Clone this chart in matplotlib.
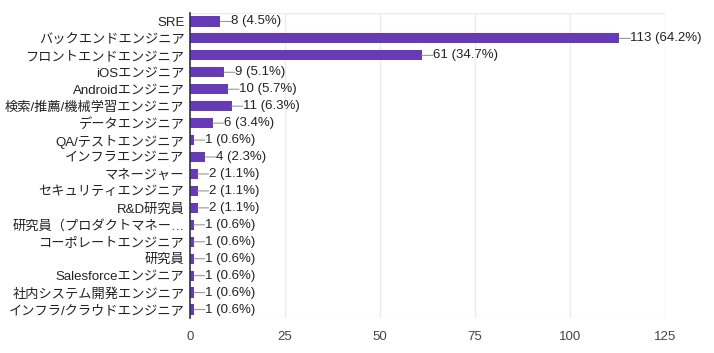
import matplotlib
matplotlib.use("Agg")
import matplotlib.pyplot as plt

plt.rcParams['font.family'] = ['Liberation Sans', 'Noto Sans CJK JP', 'DejaVu Sans']

# 職種ごとの回答数
roles = [
    "SRE",
    "バックエンドエンジニア",
    "フロントエンドエンジニア",
    "iOSエンジニア",
    "Androidエンジニア",
    "検索/推薦/機械学習エンジニア",
    "データエンジニア",
    "QA/テストエンジニア",
    "インフラエンジニア",
    "マネージャー",
    "セキュリティエンジニア",
    "R&D研究員",
    "研究員（プロダクトマネー…",
    "コーポレートエンジニア",
    "研究員",
    "Salesforceエンジニア",
    "社内システム開発エンジニア",
    "インフラ/クラウドエンジニア",
]
counts = [8, 113, 61, 9, 10, 11, 6, 1, 4, 2, 2, 2, 1, 1, 1, 1, 1, 1]
percents = [4.5, 64.2, 34.7, 5.1, 5.7, 6.3, 3.4, 0.6, 2.3, 1.1, 1.1, 1.1,
            0.6, 0.6, 0.6, 0.6, 0.6, 0.6]
xticks = [0, 25, 50, 75, 100, 125]

fig = plt.figure(figsize=(7.14, 3.53), dpi=100)
ax = fig.add_axes([190 / 714, 1 - 318 / 353, 475 / 714, 305 / 353])

ypos = list(range(len(roles)))
ax.barh(ypos, counts, height=0.6, color='#673ab7', zorder=3)

# ラベルと引き出し線
for y, c, p in zip(ypos, counts, percents):
    ax.annotate(f"{c} ({p}%)", xy=(c, y), xytext=(11, 0), textcoords='offset pixels',
                va='center', ha='left', fontsize=9.5, color='#222222',
                arrowprops=dict(arrowstyle='-', color='#999999', lw=0.8,
                                shrinkA=0, shrinkB=0, patchA=None,
                                relpos=(0, 0.5)),
                zorder=4)

ax.set_ylim(len(roles) - 0.5, -0.5)
ax.set_xlim(0, 125)
ax.set_yticks(ypos)
ax.set_yticklabels(roles, fontsize=9.5, color='#222222')
ax.set_xticks(xticks)
ax.set_xticklabels([str(t) for t in xticks], fontsize=9.5, color='#444444')
ax.tick_params(axis='both', length=0)
ax.tick_params(axis='y', pad=4)
ax.tick_params(axis='x', pad=9)

ax.grid(axis='x', color='#ebebeb', lw=1, zorder=0)
for side in ['top', 'right', 'bottom']:
    ax.spines[side].set_visible(False)
ax.spines['left'].set_color('#333333')
ax.spines['left'].set_linewidth(1.2)
ax.spines['left'].set_zorder(5)
ax.axhline(len(roles) - 0.5, color='#ebebeb', lw=1, zorder=0)
ax.axhline(-0.5, color='#ebebeb', lw=1, zorder=0)

fig.savefig('out.png', dpi=100)
